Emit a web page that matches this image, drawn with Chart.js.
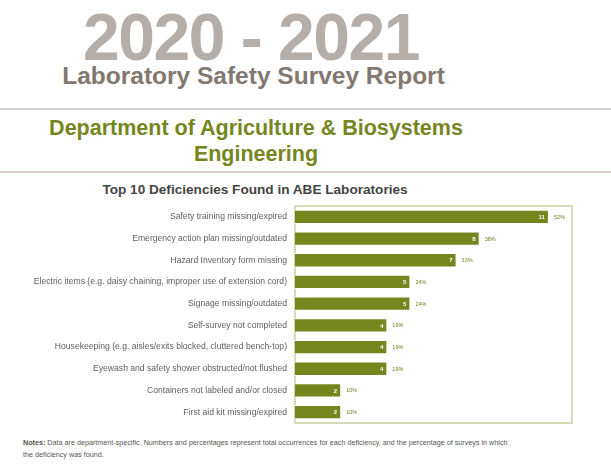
<!DOCTYPE html>
<html><head><meta charset="utf-8">
<script src="https://cdn.jsdelivr.net/npm/chart.js@4"></script>
<style>
html,body{margin:0;padding:0;background:#fff;width:611px;height:464px;overflow:hidden;font-family:"Liberation Sans",Arial,sans-serif;}
.abs{position:absolute;white-space:nowrap;}
#yr{left:0;width:502px;text-align:center;top:2px;font-size:66px;font-weight:bold;color:#b5ada8;letter-spacing:-1.5px;line-height:70px;}
#sub{left:0;width:507px;text-align:center;top:61px;font-size:24.5px;font-weight:bold;color:#827870;line-height:30px;}
#l1{left:0;top:108px;width:611px;height:2px;background:#d3cfcb;}
#dep{left:0;width:512px;text-align:center;top:116px;font-size:21.5px;font-weight:bold;color:#76861e;line-height:25.5px;}
#l2{left:0;top:171px;width:611px;height:2px;background:#d3cfcb;}
#ct{left:0;width:510px;text-align:center;top:181px;font-size:13.6px;font-weight:bold;color:#454545;line-height:17px;}
#notes{left:23px;top:437px;font-size:7.2px;color:#555;line-height:11.5px;white-space:normal;width:486px;}
#wrap{position:absolute;left:0;top:195px;width:611px;height:235px;}
</style></head><body>
<div id="yr" class="abs">2020 - 2021</div>
<div id="sub" class="abs">Laboratory Safety Survey Report</div>
<div id="l1" class="abs"></div>
<div id="dep" class="abs">Department of Agriculture &amp; Biosystems<br>Engineering</div>
<div id="l2" class="abs"></div>
<div id="ct" class="abs">Top 10 Deficiencies Found in ABE Laboratories</div>
<div id="wrap"><canvas id="c"></canvas></div>
<div id="notes" class="abs"><b>Notes:</b> Data are department-specific. Numbers and percentages represent total occurrences for each deficiency, and the percentage of surveys in which the deficiency was found.</div>
<script>
const categories = [
  "Safety training missing/expired",
  "Emergency action plan missing/outdated",
  "Hazard Inventory form missing",
  "Electric items (e.g. daisy chaining, improper use of extension cord)",
  "Signage missing/outdated",
  "Self-survey not completed",
  "Housekeeping (e.g. aisles/exits blocked, cluttered bench-top)",
  "Eyewash and safety shower obstructed/not flushed",
  "Containers not labeled and/or closed",
  "First aid kit missing/expired"
];
const counts = [11, 8, 7, 5, 5, 4, 4, 4, 2, 2];
const percents = ["52%", "38%", "33%", "24%", "24%", "19%", "19%", "19%", "10%", "10%"];

const GREEN = '#76861e';
const labelPlugin = {
  id: 'labels',
  afterDatasetsDraw(chart) {
    const ctx = chart.ctx;
    const meta = chart.getDatasetMeta(0);
    ctx.save();
    meta.data.forEach((bar, i) => {
      ctx.textBaseline = 'middle';
      ctx.font = 'bold 6px "Liberation Sans", Arial, sans-serif';
      ctx.fillStyle = '#ffffff';
      ctx.textAlign = 'right';
      ctx.fillText(String(counts[i]), bar.x - 4, bar.y + 0.5);
      ctx.font = '5.5px "Liberation Sans", Arial, sans-serif';
      ctx.fillStyle = '#6f7f1c';
      ctx.textAlign = 'left';
      ctx.fillText(percents[i], bar.x + 5, bar.y + 0.5);
    });
    ctx.restore();
  }
};
const framePlugin = {
  id: 'frame',
  beforeDatasetsDraw(chart) {
    const a = chart.chartArea, ctx = chart.ctx;
    ctx.save();
    ctx.strokeStyle = '#c9d09f';
    ctx.lineWidth = 1.5;
    ctx.strokeRect(a.left, a.top, a.right - a.left, a.bottom - a.top);
    ctx.restore();
  }
};

new Chart(document.getElementById('c'), {
  type: 'bar',
  data: {
    labels: categories,
    datasets: [{
      data: counts,
      backgroundColor: GREEN,
      borderColor: '#ffffff',
      borderWidth: 1,
      categoryPercentage: 0.66,
      barPercentage: 1
    }]
  },
  options: {
    indexAxis: 'y',
    responsive: true,
    maintainAspectRatio: false,
    animation: false,
    layout: { padding: { left: 0, right: 39, top: 11, bottom: 7 } },
    plugins: { legend: { display: false }, tooltip: { enabled: false } },
    scales: {
      x: { display: false, min: 0, max: 12 },
      y: {
        afterFit(s) { s.width = 295; },
        grid: { display: false },
        border: { display: false },
        ticks: { color: '#606060', padding: 0, font: { size: 8.6, family: '"Liberation Sans", Arial, sans-serif' } }
      }
    }
  },
  plugins: [framePlugin, labelPlugin]
});
</script>
</body></html>
